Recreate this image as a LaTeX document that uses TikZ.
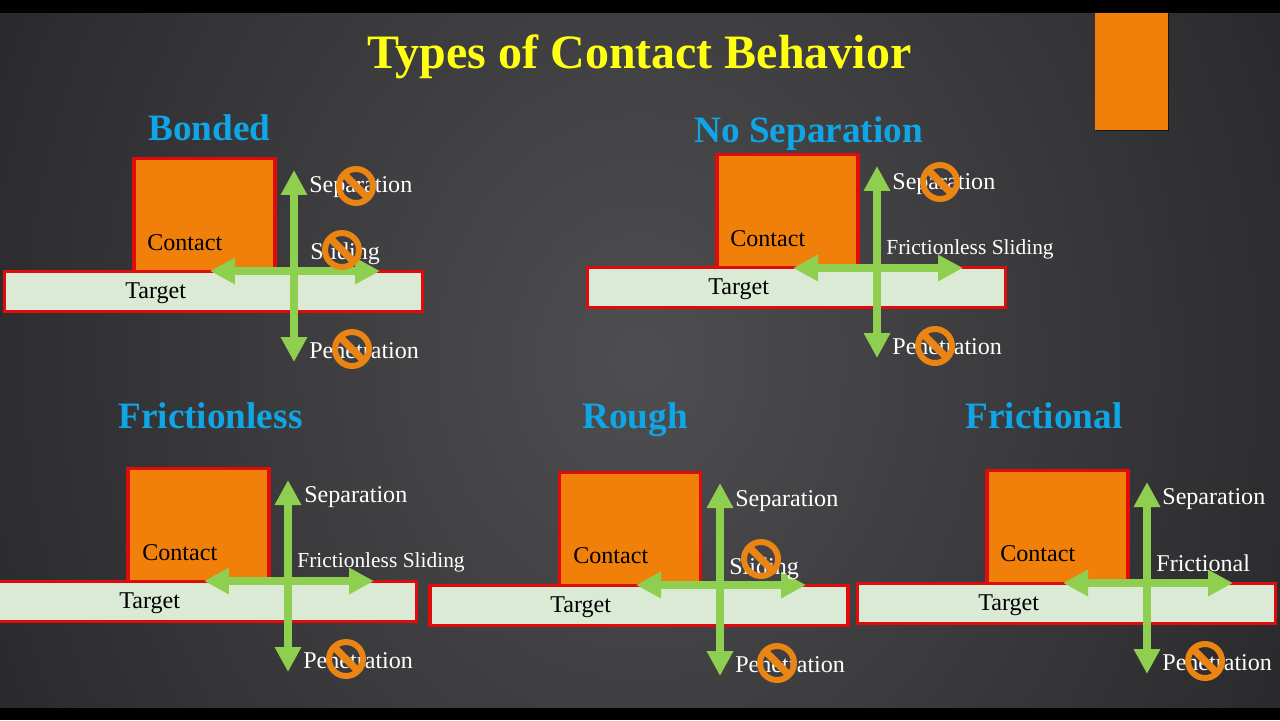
\documentclass[tikz,border=0pt]{standalone}
\usepackage{fontspec}
\setmainfont{Liberation Serif}
\usepackage{xcolor}
\definecolor{boxorange}{HTML}{F0800A}
\definecolor{signorange}{HTML}{EA8412}
\definecolor{boxred}{HTML}{E00B0B}
\definecolor{boxgreen}{HTML}{DBEAD5}
\definecolor{movegreen}{HTML}{8FCF50}
\definecolor{headblue}{HTML}{10A5E5}
\definecolor{titleyellow}{HTML}{FFFF14}
\definecolor{bgmid}{HTML}{4E4E50}
\definecolor{bgedge}{HTML}{1B1B1D}
\usetikzlibrary{arrows.meta, positioning, shadows}

\begin{document}
\begin{tikzpicture}[
      x=0.02cm, y=-0.02cm,
      contactbox/.style={draw=boxred, fill=boxorange, line width=1.9pt, outer sep=0pt,
                  minimum width=2.82cm, minimum height=2.25cm},
      targetbox/.style={draw=boxred, fill=boxgreen, line width=1.9pt, outer sep=0pt,
                  minimum width=8.36cm, minimum height=0.8cm},
      move/.style={movegreen, line width=5pt,
                  {Triangle[length=0.5cm, width=0.5cm]}-{Triangle[length=0.5cm, width=0.5cm]}},
      nosign/.style={circle, draw=signorange, line width=3.4pt, minimum size=0.68cm, inner sep=0pt,
                  path picture={\draw[signorange, line width=4.2pt]
                    (path picture bounding box.north west) -- (path picture bounding box.south east);}},
      lbl/.style={anchor=base west, inner sep=0pt, text=white, font=\fontsize{13.7}{16}\selectfont},
      smalllbl/.style={lbl, font=\fontsize{12.2}{15}\selectfont},
      boxlbl/.style={anchor=base west, inner sep=0pt, text=black, font=\fontsize{13.7}{16}\selectfont},
      head/.style={anchor=base west, inner sep=0pt, text=headblue, font=\fontsize{21.2}{25}\selectfont\bfseries},
      tab/.style={fill=boxorange, inner sep=0pt, outer sep=0pt, anchor=north west,
                  minimum width=1.46cm, minimum height=2.34cm,
                  drop shadow={shadow xshift=0.4pt, shadow yshift=-0.8pt, fill=black, opacity=0.6}}]

    \useasboundingbox (0,0) rectangle (1280,720);
    \fill[black] (0,0) rectangle (1280,720);
    \begin{scope}
      \clip (0,13) rectangle (1280,707);
      \shade[inner color=bgmid, outer color=bgedge] (-360,-840) rectangle (1640,1560);
    \end{scope}

    % ── Title ──
    \node[anchor=base, inner sep=0pt, text=titleyellow, font=\fontsize{27.3}{32}\selectfont\bfseries] (title)
      at (639.5,68) {Types of Contact Behavior};
    \node[tab] (corner) at (1095,13) {};

    % ── Bonded ──
    \node[head] (bh) at (148,140) {Bonded};
    \node[contactbox] (bc) at (204.5,215) {};
    \node[targetbox, below=0cm of bc, xshift=0.18cm] (bt) {};
    \node[boxlbl] (bcl) at (147,250) {Contact};
    \node[boxlbl] (btl) at (125,298) {Target};
    \coordinate (bup) at (294,170);
    \coordinate (bdn) at (294,362);
    \coordinate (blf) at (210,271);
    \coordinate (brt) at (380,271);
    \draw[move] (blf) -- (brt);
    \draw[move] (bup) -- (bdn);
    \node[lbl] (bsep) at (309,192.5) {Separation};
    \node[lbl] (bsl) at (310,259.5) {Sliding};
    \node[lbl] (bpen) at (309,358) {Penetration};
    \node[nosign] (bn1) at (356,186) {};
    \node[nosign] (bn2) at (342,250) {};
    \node[nosign] (bn3) at (352,349) {};

    % ── No Separation ──
    \node[head] (nh) at (694,142) {No Separation};
    \node[contactbox] (nc) at (787.5,211) {};
    \node[targetbox, below=0cm of nc, xshift=0.18cm] (nt) {};
    \node[boxlbl] (ncl) at (730,246) {Contact};
    \node[boxlbl] (ntl) at (708,294) {Target};
    \coordinate (nup) at (877,166);
    \coordinate (ndn) at (877,358);
    \coordinate (nlf) at (793,268);
    \coordinate (nrt) at (963,268);
    \draw[move] (nlf) -- (nrt);
    \draw[move] (nup) -- (ndn);
    \node[lbl] (nsep) at (892,189) {Separation};
    \node[smalllbl] (nsl) at (886,254) {Frictionless Sliding};
    \node[lbl] (npen) at (892,354) {Penetration};
    \node[nosign] (nn1) at (940,182) {};
    \node[nosign] (nn3) at (935,346) {};

    % ── Frictionless ──
    \node[head] (fh) at (118,428) {Frictionless};
    \node[contactbox] (fc) at (198.5,525) {};
    \node[targetbox, below=0cm of fc, xshift=0.18cm] (ft) {};
    \node[boxlbl] (fcl) at (142,560) {Contact};
    \node[boxlbl] (ftl) at (119,608) {Target};
    \coordinate (fup) at (288,480);
    \coordinate (fdn) at (288,672);
    \coordinate (flf) at (204,581);
    \coordinate (frt) at (374,581);
    \draw[move] (flf) -- (frt);
    \draw[move] (fup) -- (fdn);
    \node[lbl] (fsep) at (304,502) {Separation};
    \node[smalllbl] (fsl) at (297,567) {Frictionless Sliding};
    \node[lbl] (fpen) at (303,668) {Penetration};
    \node[nosign] (fn3) at (346,659) {};

    % ── Rough ──
    \node[head] (rh) at (582,428) {Rough};
    \node[contactbox] (rc) at (630,529) {};
    \node[targetbox, below=0cm of rc, xshift=0.18cm] (rt) {};
    \node[boxlbl] (rcl) at (573,563) {Contact};
    \node[boxlbl] (rtl) at (550,612) {Target};
    \coordinate (rup) at (720,483);
    \coordinate (rdn) at (720,676);
    \coordinate (rlf) at (636,585);
    \coordinate (rrt) at (806,585);
    \draw[move] (rlf) -- (rrt);
    \draw[move] (rup) -- (rdn);
    \node[lbl] (rsep) at (735,506) {Separation};
    \node[lbl] (rsl) at (729,574) {Sliding};
    \node[lbl] (rpen) at (735,672) {Penetration};
    \node[nosign] (rn2) at (761,559) {};
    \node[nosign] (rn3) at (777,663) {};

    % ── Frictional ──
    \node[head] (ah) at (965,428) {Frictional};
    \node[contactbox] (ac) at (1057.5,527) {};
    \node[targetbox, below=0cm of ac, xshift=0.18cm] (at) {};
    \node[boxlbl] (acl) at (1000,561) {Contact};
    \node[boxlbl] (atl) at (978,610) {Target};
    \coordinate (aup) at (1147,482);
    \coordinate (adn) at (1147,674);
    \coordinate (alf) at (1063,583);
    \coordinate (art) at (1233,583);
    \draw[move] (alf) -- (art);
    \draw[move] (aup) -- (adn);
    \node[lbl] (asep) at (1162,504) {Separation};
    \node[lbl] (asl) at (1156,571) {Frictional};
    \node[lbl] (apen) at (1162,670) {Penetration};
    \node[nosign] (an3) at (1205,661) {};

  \end{tikzpicture}
\end{document}
